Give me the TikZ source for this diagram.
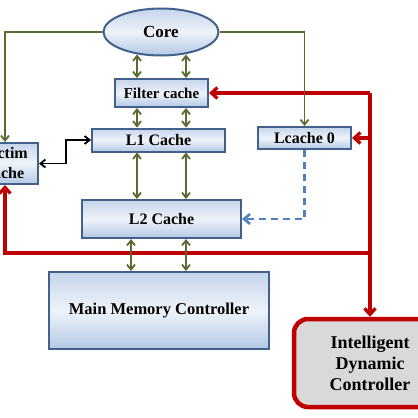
\documentclass[tikz,border=0pt]{standalone}
\usepackage{fontspec}
\setmainfont{Liberation Serif}
\usetikzlibrary{shapes.geometric, arrows.meta, positioning}
\definecolor{cacheborder}{HTML}{41618C}
\definecolor{cachetop}{HTML}{C6D4EA}
\definecolor{cachemid}{HTML}{EEF3FA}
\definecolor{cachebot}{HTML}{B4C8E4}
\definecolor{busgreen}{HTML}{5A6B30}
\definecolor{ctrlred}{HTML}{C00000}
\definecolor{dashblue}{HTML}{4F81BD}
\definecolor{ctrlgray}{HTML}{D9D9D9}

\begin{document}
\begin{tikzpicture}[x=1pt, y=-1pt,
  box/.style={draw=cacheborder, line width=2pt, top color=cachetop, bottom color=cachebot, middle color=cachemid, align=center, inner sep=0pt, font=\bfseries\fontsize{16}{20}\selectfont},
  ctrl/.style={draw=ctrlred, line width=4.5pt, rounded corners=14pt, fill=ctrlgray, align=center, inner sep=0pt, font=\bfseries\fontsize{18}{21}\selectfont},
  garr/.style={{Straight Barb[length=5pt,width=8pt]}-{Straight Barb[length=5pt,width=8pt]}, line width=1.8pt, busgreen},
  gone/.style={-{Straight Barb[length=5pt,width=8pt]}, line width=1.8pt, busgreen},
  barr/.style={{Straight Barb[length=5pt,width=8pt]}-{Straight Barb[length=5pt,width=8pt]}, line width=1.8pt, black},
  darr/.style={-{Straight Barb[length=6pt,width=10pt]}, line width=2.6pt, dashblue, dash pattern=on 7pt off 5pt},
  rarr/.style={-{Straight Barb[length=6pt,width=11pt]}, line width=3.3pt, ctrlred},
]
\clip (0,0) rectangle (418,418);
\useasboundingbox (0,0) rectangle (418,418);

% Core and caches
\node[box, ellipse, minimum width=115pt, minimum height=47pt, font=\bfseries\fontsize{17}{20}\selectfont] (core) at (161,32) {Core};
\node[box, minimum width=93pt, minimum height=28pt, font=\bfseries\fontsize{15}{18}\selectfont] (filter) at (161.5,93) {Filter cache};
\node[box, minimum width=133pt, minimum height=23pt] (l1) at (158.5,140) {L1 Cache};
\node[box, minimum width=93pt, minimum height=22pt] (lcache) at (304.5,138) {Lcache 0};
\node[box, minimum width=66pt, minimum height=41pt] (victim) at (5,163.5) {Victim\\cache};
\node[box, minimum width=159pt, minimum height=38pt] (l2) at (161.5,219) {L2 Cache};

% Memory and controller
\node[box, minimum width=220pt, minimum height=77pt, font=\bfseries\fontsize{16.5}{20}\selectfont] (mem) at (159,310.5) {Main Memory Controller};
\node[ctrl, minimum width=152pt, minimum height=88pt] (idc) at (370,363) {Intelligent\\Dynamic\\Controller};

% Lanes for the vertical buses
\coordinate (laneA) at (137,0);
\coordinate (laneB) at (186,0);
\coordinate (laneC) at (131,0);

% Red control lines
\coordinate (redtop) at (idc.north |- filter.east);
\coordinate (redmid) at (idc.north |- 0,253);
\draw[rarr] (redtop) -- (filter.east);
\draw[rarr] (redtop) -- (idc.north);
\draw[rarr] (redtop |- lcache.east) -- (lcache.east);
\draw[rarr] (redmid) -| (victim.south);

% Green buses
\draw[gone] (core.west) -| (victim.north);
\draw[gone] (core.east) -| (lcache.north);
\draw[garr] ([yshift=2pt]core.south -| laneA) -- (filter.north -| laneA);
\draw[garr] ([yshift=2pt]core.south -| laneB) -- (filter.north -| laneB);
\draw[garr] (filter.south -| laneA) -- (l1.north -| laneA);
\draw[garr] (filter.south -| laneB) -- (l1.north -| laneB);
\draw[garr] (l1.south -| laneA) -- (l2.north -| laneA);
\draw[garr] (l1.south -| laneB) -- (l2.north -| laneB);
\draw[garr] (l2.south -| laneC) -- (mem.north -| laneC);
\draw[garr] (l2.south -| laneB) -- (mem.north -| laneB);

% Victim link and Lcache spill
\draw[barr] (victim.east) -- ++(27,0) |- (l1.west);
\draw[darr] (lcache.south) |- (l2.east);

\end{tikzpicture}
\end{document}
